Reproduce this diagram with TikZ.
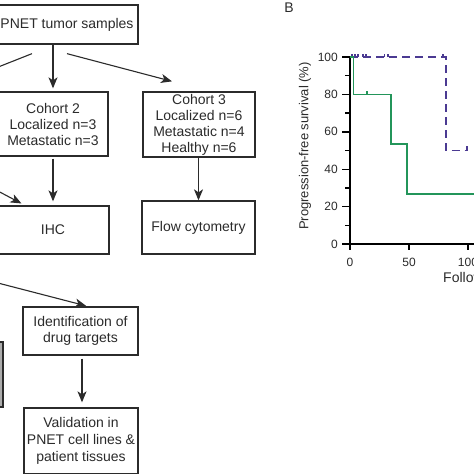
\documentclass[tikz,border=0pt]{standalone}
\usepackage{fontspec}
\setmainfont{Liberation Sans}
\usetikzlibrary{arrows.meta,calc}
\definecolor{kmgreen}{HTML}{23955A}
\definecolor{kmpurple}{HTML}{4B3A92}
\definecolor{ink}{HTML}{2B2B2B}
\begin{document}
\begin{tikzpicture}[x=1pt,y=-1pt,
  box/.style={draw=ink,line width=1.3pt,rectangle,inner sep=0pt,align=center,text=ink,font=\fontsize{14}{16}\selectfont},
  arr/.style={draw=ink,line width=1.1pt,-{Stealth[length=11pt,width=9pt,inset=3pt]}},
  axisline/.style={draw=black,line width=1.4pt},
  ticklab/.style={text=ink,font=\fontsize{12}{14}\selectfont,inner sep=0pt},
  kmline/.style={line width=1.8pt}]
\useasboundingbox (0,0) rectangle (474,474);
\clip (0,0) rectangle (474,474);
\fill[white] (0,0) rectangle (474,474);
% boxes
\node[box,minimum width=142pt,minimum height=39pt] (top) at (67,24.5) {PNET tumor samples};
\node[box,minimum width=110pt,minimum height=64pt] (c2) at (53,124) {Cohort 2\\Localized n=3\\Metastatic n=3};
\node[box,minimum width=112pt,minimum height=65pt] (c3) at (199,124.5) {Cohort 3\\Localized n=6\\Metastatic n=4\\Healthy n=6};
\node[box,minimum width=112pt,minimum height=48pt] (ihc) at (53,230) {IHC};
\node[box,minimum width=113pt,minimum height=53pt] (flow) at (198.5,227.5) {Flow cytometry};
\node[box,minimum width=115pt,minimum height=48pt] (ident) at (80.5,331) {Identification of\\drug targets};
\node[box,minimum width=114pt,minimum height=66pt,font=\fontsize{14}{17}\selectfont] (valid) at (81,441) {Validation in\\PNET cell lines \&\\patient tissues};
\node[box,fill=gray!65,minimum width=10pt,minimum height=65pt] (grey) at (-2,374.5) {};
% free ends
\coordinate (offA) at (-60,90);
\coordinate (offB) at (-40,171);
\coordinate (offC) at (-60,268);
% connectors
\draw[arr] ($(top.south)+(-35,9)$) -- (offA);
\draw[arr,shorten >=3pt] (c2.north |- top.south) -- (c2.north);
\draw[arr] ($(top.south)+(0,9)$) -- ($(c3.north)+(-27,-10)$);
\draw[arr,shorten <=2pt,shorten >=4pt] (c2.south) -- (c2.south |- ihc.north);
\draw[arr,shorten >=4pt] (offB) -- ($(ihc.north)+(-28,0)$);
\draw[arr,shorten >=0pt] (c3.south -| flow.north) -- ($(flow.north)+(0,0)$);
\draw[arr,shorten >=2pt] (offC) -- ($(ident.north)+(7.5,0)$);
\draw[arr,shorten <=3pt,shorten >=5pt] ($(ident.south)+(1.5,0)$) -- ($(valid.north)+(1,0)$);
% panel B
\node[text=ink,font=\fontsize{14}{16}\selectfont,inner sep=0pt] (lblB) at (289,8) {B};
\draw[axisline] (350,57) -- (350,244) -- (480,244);
\foreach \v in {0,20,...,100} {
  \draw[axisline] (342,{244-1.87*\v}) -- (350,{244-1.87*\v});
  \node[ticklab,anchor=east] at (338,{244-1.87*\v}) {\v};
}
\foreach \v in {10,30,...,90} {
  \draw[axisline] (345,{244-1.87*\v}) -- (350,{244-1.87*\v});
}
\foreach \t/\x in {0/350,50/409,100/468} {
  \draw[axisline] (\x,244) -- (\x,250);
  \node[ticklab] at (\x,262.5) {\t};
}
\node[text=ink,font=\fontsize{13}{15}\selectfont,inner sep=0pt,rotate=90] (ylab) at (305,146) {Progression-free survival (\%)};
\node[text=ink,font=\fontsize{14}{16}\selectfont,inner sep=0pt,anchor=west] (xlab) at (443,279) {Follow-up (months)};
% curves
\draw[kmline,kmpurple,dash pattern=on 8pt off 5pt] (350,57) -- (446,57) -- (446,150.5) -- (467,150.5);
\draw[kmline,kmpurple,line width=1.3pt] (467,150.5) -- (467,146);
\foreach \x in {352,355,358,363,366,384.5,388,443} {
  \draw[kmpurple,line width=1.6pt] (\x,57) -- (\x,54);
}
\draw[kmline,kmgreen] (350,57) -- (353.5,57) -- (353.5,94.4) -- (391,94.4) -- (391,144.2) -- (407,144.2) -- (407,194) -- (480,194);
\draw[kmgreen,line width=1.3pt] (367,94.4) -- (367,91);
\end{tikzpicture}
\end{document}
